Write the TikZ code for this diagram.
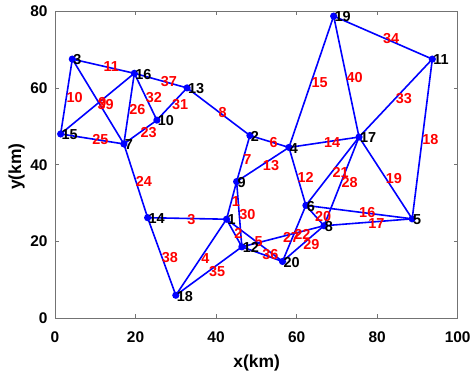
\documentclass[tikz,border=0pt]{standalone}
\usepackage{fontspec}
\setmainfont{Liberation Sans}
\begin{document}
\begin{tikzpicture}[x=4.027bp,y=3.84bp,
  edge/.style={draw={rgb,1:red,0;green,0;blue,1},line width=1.6bp},
  dot/.style={fill={rgb,1:red,0;green,0;blue,1}},
  elab/.style={text={rgb,1:red,1;green,0;blue,0},anchor=west,inner sep=0pt,font=\fontsize{14.5}{14.5}\selectfont\bfseries},
  nlab/.style={text=black,anchor=west,inner sep=0pt,xshift=0.8bp,font=\fontsize{14.5}{14.5}\selectfont\bfseries},
  axis/.style={draw=black!55,line width=0.7bp},
  ticklab/.style={inner sep=0pt,font=\fontsize{15.5}{15.5}\selectfont\bfseries},
  axlab/.style={inner sep=0pt,font=\fontsize{17.5}{17.5}\selectfont\bfseries}]
\useasboundingbox (-13.658,-15.81) rectangle (104.05,82.89);
% axes box
\draw[axis] (0,0) rectangle (100,80);
\foreach \t in {20,40,60,80} {
  \draw[axis] (\t,0) -- ++(0,4bp);
  \draw[axis] (\t,80) -- ++(0,-4bp);
}
\foreach \t in {20,40,60} {
  \draw[axis] (0,\t) -- ++(4bp,0);
  \draw[axis] (100,\t) -- ++(-4bp,0);
}
\foreach \t in {0,20,40,60,80,100}
  \node[ticklab] (xt\t) at (\t,-4.87) {\t};
\foreach \t in {0,20,40,60,80}
  \node[ticklab,anchor=east] (yt\t) at (-1.81,\t) {\t};
\node[axlab] (xlab) at (50.1,-11.7) {x(km)};
\node[axlab,rotate=90] (ylab) at (-9.51,39.5) {y(km)};
% nodes
\coordinate (n1) at (42.6,25.8);
\coordinate (n2) at (48.4,47.6);
\coordinate (n3) at (4.3,67.5);
\coordinate (n4) at (58.1,44.5);
\coordinate (n5) at (88.7,25.9);
\coordinate (n6) at (62.3,29.4);
\coordinate (n7) at (17.1,45.4);
\coordinate (n8) at (66.8,24.1);
\coordinate (n9) at (45.1,35.6);
\coordinate (n10) at (25.3,51.6);
\coordinate (n11) at (93.7,67.5);
\coordinate (n12) at (46.4,18.6);
\coordinate (n13) at (32.8,60.0);
\coordinate (n14) at (23.0,26.2);
\coordinate (n15) at (1.4,48.0);
\coordinate (n16) at (19.7,63.8);
\coordinate (n17) at (75.5,47.2);
\coordinate (n18) at (30.0,6.0);
\coordinate (n19) at (69.2,78.7);
\coordinate (n20) at (56.5,14.8);
\def\edgelist{1/1/9,2/1/12,3/14/1,4/1/18,5/1/20,6/2/4,7/2/9,8/13/2,9/3/7,10/3/15,
11/3/16,12/4/6,13/9/4,14/4/17,15/4/19,16/6/5,17/8/5,18/11/5,19/17/5,20/6/8,
21/17/6,22/20/6,23/7/10,24/7/14,25/15/7,26/16/7,27/12/8,28/17/8,29/20/8,30/9/12,
31/10/13,32/16/10,33/17/11,34/19/11,35/18/12,36/12/20,37/16/13,38/14/18,39/15/16,40/19/17}
\foreach \k/\a/\b in \edgelist
  \draw[edge] (n\a) -- (n\b);
\foreach \i in {1,...,20}
  \fill[dot] (n\i) circle[radius=3.6bp];
\foreach \k/\a/\b in \edgelist
  \path (n\a) -- node[elab,pos=0.5,yshift=-0.8bp] (e\k) {\k} (n\b);
\foreach \i in {1,...,20}
  \node[nlab,yshift=-0.8bp] (l\i) at (n\i) {\i};
\end{tikzpicture}
\end{document}
